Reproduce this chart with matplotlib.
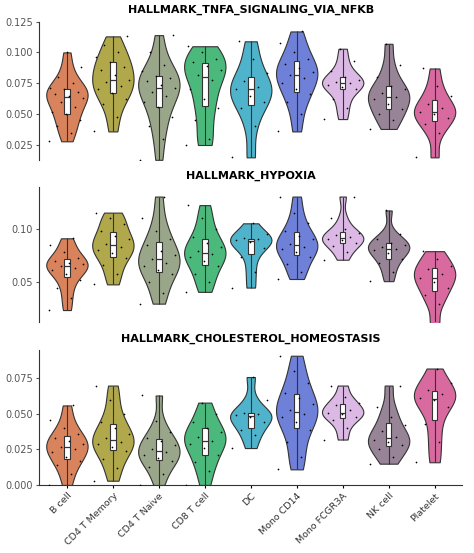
"""
Violin + box + jitter of hallmark scores by cell type.
"""
import numpy as np
import matplotlib
matplotlib.use('Agg')
import matplotlib.pyplot as plt

cell_types = ['B cell', 'CD4 T Memory', 'CD4 T Naive', 'CD8 T cell', 'DC',
              'Mono CD14', 'Mono FCGR3A', 'NK cell', 'Platelet']
colors = ['#d9835c', '#b0a84a', '#9aa68a', '#4cb97c', '#4fb4cb',
          '#6e80d8', '#dbb9e4', '#978496', '#d96a9f']
titles = ['HALLMARK_TNFA_SIGNALING_VIA_NFKB', 'HALLMARK_HYPOXIA',
          'HALLMARK_CHOLESTEROL_HOMEOSTASIS']

tnfa = [
    [.028,.035,.040,.045,.050,.052,.056,.060,.063,.065,.066,.068,.070,.071,.075,.080,.088,.100],
    [.036,.048,.058,.062,.067,.070,.073,.076,.078,.082,.086,.088,.092,.096,.100,.106,.113],
    [.013,.030,.040,.048,.056,.060,.065,.068,.071,.074,.077,.079,.081,.085,.090,.100,.114],
    [.025,.030,.045,.055,.062,.070,.078,.082,.086,.089,.092,.095,.100,.105],
    [.015,.040,.055,.060,.065,.070,.072,.077,.083,.095,.109],
    [.036,.050,.060,.066,.070,.075,.079,.082,.084,.087,.091,.095,.100,.108,.117],
    [.046,.055,.062,.070,.072,.074,.075,.076,.078,.080,.085,.093,.103],
    [.038,.045,.050,.054,.058,.062,.064,.067,.070,.073,.080,.090,.107],
    [.015,.035,.042,.047,.050,.052,.055,.058,.065,.073,.087],
]
hypoxia = [
    [.024,.035,.045,.052,.058,.061,.063,.065,.067,.068,.070,.073,.078,.085,.091],
    [.048,.058,.066,.073,.077,.080,.083,.086,.090,.093,.098,.104,.110,.115],
    [.030,.040,.050,.058,.061,.065,.068,.072,.075,.079,.085,.090,.098,.110,.130],
    [.041,.050,.058,.065,.070,.074,.076,.079,.083,.087,.092,.100,.110,.122],
    [.045,.060,.074,.082,.088,.089,.090,.091,.095,.105],
    [.053,.060,.067,.074,.078,.081,.083,.086,.090,.093,.098,.105,.115,.130],
    [.071,.078,.084,.087,.089,.090,.092,.094,.096,.100,.110,.130],
    [.051,.060,.068,.072,.077,.080,.081,.083,.085,.087,.090,.095,.117],
    [.011,.030,.038,.045,.050,.054,.058,.062,.065,.072,.079],
]
cholesterol = [
    [.000,.008,.014,.017,.020,.023,.025,.027,.029,.031,.033,.036,.040,.046,.056],
    [.003,.012,.018,.024,.027,.029,.030,.033,.036,.040,.044,.050,.060,.070],
    [.000,.008,.013,.017,.019,.021,.023,.025,.028,.031,.033,.037,.045,.063],
    [.000,.010,.016,.021,.026,.029,.031,.034,.037,.040,.044,.050,.058],
    [.026,.035,.039,.044,.048,.049,.050,.051,.060,.076],
    [.011,.020,.030,.039,.044,.048,.050,.053,.057,.061,.065,.072,.080,.091],
    [.032,.040,.046,.048,.050,.051,.053,.056,.058,.062,.070],
    [.015,.020,.025,.028,.030,.032,.034,.038,.042,.048,.055,.070],
    [.016,.030,.043,.055,.060,.061,.064,.067,.072,.082],
]

panels = [tnfa, hypoxia, cholesterol]
ylims = [(0.013, 0.125), (0.013, 0.139), (0.0, 0.095)]
yticks = [[.025, .05, .075, .1, .125], [.05, .1], [0, .025, .05, .075]]
ytl = [['0.025', '0.050', '0.075', '0.100', '0.125'], ['0.05', '0.10'],
       ['0.000', '0.025', '0.050', '0.075']]
axpos = [[0.083, 0.711, 0.892, 0.250], [0.083, 0.418, 0.892, 0.244],
         [0.083, 0.123, 0.892, 0.244]]

fig = plt.figure(figsize=(4.74, 5.53), dpi=100)
pos = np.arange(len(cell_types))
for k, data in enumerate(panels):
    ax = fig.add_axes(axpos[k])
    vp = ax.violinplot(data, positions=pos, widths=0.9, showextrema=False,
                       bw_method=0.45)
    for body, c in zip(vp['bodies'], colors):
        body.set_facecolor(c)
        body.set_edgecolor('#333333')
        body.set_linewidth(0.8)
        body.set_alpha(1)
    for i, vals in enumerate(data):
        ax.vlines(i, min(vals), max(vals), color='#333333', lw=0.8, zorder=3)
    ax.boxplot(data, positions=pos, widths=0.12, whis=0, showfliers=False,
               showcaps=False, patch_artist=True,
               boxprops=dict(facecolor='white', edgecolor='#333333', lw=0.8),
               medianprops=dict(color='#333333', lw=0.9),
               whiskerprops=dict(lw=0), zorder=4)
    for i, vals in enumerate(data):
        jit = (((np.arange(len(vals)) * 0.618034) % 1) - 0.5) * 0.8
        ax.scatter(i + jit, vals, s=1.5, c='black', zorder=5, lw=0)
    ax.set_xlim(-0.6, len(cell_types) - 0.4)
    ax.set_ylim(*ylims[k])
    ax.set_yticks(yticks[k])
    ax.set_yticklabels(ytl[k])
    ax.tick_params(axis='y', labelsize=7, labelcolor='#555555', color='#555555',
                   length=2.5, pad=2)
    ax.set_title(titles[k], fontsize=8, fontweight='bold', pad=6)
    for s in ['top', 'right']:
        ax.spines[s].set_visible(False)
    ax.spines['left'].set_color('#333333')
    if k < 2:
        ax.spines['bottom'].set_visible(False)
        ax.set_xticks([])
    else:
        ax.spines['bottom'].set_color('#333333')
        ax.set_xticks(pos)
        ax.tick_params(axis='x', length=2.5, pad=2)
        ax.set_xticklabels(cell_types, rotation=45, ha='right',
                           rotation_mode='anchor', fontsize=6.8, color='#333333')

plt.savefig('out.png', dpi=100)
